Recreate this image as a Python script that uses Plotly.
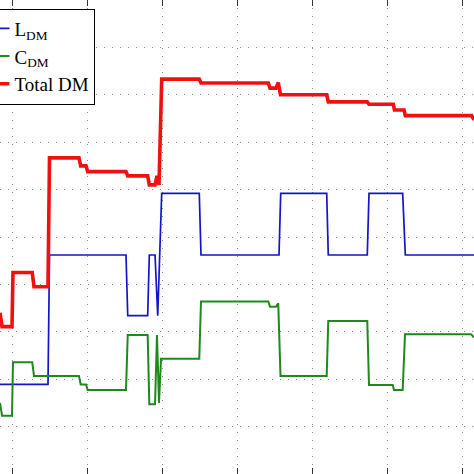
import plotly.graph_objects as go

# time axis (grid every 10 units), values (grid every 1 unit)
t_L = [-1.6, 4.8, 5.0, 15.2, 15.43, 18.09, 18.31, 19.07, 19.43, 19.96, 24.97, 25.2,
       35.6, 35.83, 41.96, 42.17, 47.37, 47.6, 52.09, 52.44, 61.6]
v_L = [1.89, 1.89, 4.62, 4.62, 3.34, 3.34, 4.62, 4.62, 3.34, 5.92, 5.92, 4.62,
       4.62, 5.92, 5.92, 4.62, 4.62, 5.92, 5.92, 4.62, 4.62]

t_C = [-1.6, -1.33, 0.0, 0.13, 2.7, 2.93, 8.93, 9.16, 9.87, 10.09, 15.2, 15.43,
       18.09, 18.31, 19.07, 19.33, 19.6, 19.87, 24.97, 25.2, 34.17, 34.4, 35.2,
       35.5, 35.8, 41.96, 42.17, 47.37, 47.6, 50.76, 50.93, 52.09, 52.4, 61.2, 61.6]
v_C = [1.50, 1.23, 1.23, 2.36, 2.36, 2.07, 2.07, 1.89, 1.89, 1.77, 1.77, 2.93,
       2.93, 1.47, 1.47, 2.93, 1.50, 2.43, 2.43, 3.64, 3.64, 3.53, 3.53,
       3.60, 2.07, 2.07, 3.23, 3.23, 1.88, 1.88, 1.77, 1.77, 2.95, 2.95, 2.88]

t_T = [-1.6, -1.33, 0.0, 0.13, 2.7, 2.93, 4.8, 5.0, 8.93, 9.16, 9.87, 10.09, 15.2, 15.43,
       18.09, 18.31, 19.07, 19.33, 19.6, 19.96, 24.97, 25.2, 34.17, 34.4, 35.2,
       35.5, 35.8, 41.96, 42.17, 47.37, 47.6, 50.84, 51.0, 52.27, 52.44, 61.29, 61.6]
v_T = [3.40, 3.11, 3.11, 4.25, 4.25, 3.95, 3.95, 6.67, 6.67, 6.50, 6.50, 6.38, 6.38, 6.29,
       6.29, 6.10, 6.10, 6.29, 6.10, 8.33, 8.33, 8.25, 8.25, 8.14, 8.14,
       8.26, 8.00, 8.00, 7.85, 7.85, 7.80, 7.80, 7.68, 7.68, 7.56, 7.56, 7.47]

names = ["L<sub>DM</sub>", "C<sub>DM</sub>", "Total DM"]

fig = go.Figure()
fig.add_trace(go.Scatter(x=t_L, y=v_L, mode="lines", name=names[0], legendgroup="a",
                         line=dict(color="#1414c8", width=1.7)))
fig.add_trace(go.Scatter(x=t_C, y=v_C, mode="lines", name=names[1], legendgroup="b",
                         line=dict(color="#1e8a1e", width=2)))
fig.add_trace(go.Scatter(x=t_T, y=v_T, mode="lines", name=names[2], legendgroup="c",
                         line=dict(color="#f01010", width=3.6)))

fig.update_layout(
    width=474, height=474,
    margin=dict(l=0, r=0, t=0, b=0, pad=0, autoexpand=False),
    paper_bgcolor="white", plot_bgcolor="white",
    showlegend=True,
    legend=dict(x=-0.056, y=0.982, xanchor="left", yanchor="top",
                bgcolor="white", bordercolor="black", borderwidth=1,
                font=dict(family="Liberation Serif, Times New Roman, serif", size=19, color="black"),
                tracegroupgap=0),
    xaxis=dict(range=[-1.6, 61.6], tick0=0, dtick=10, showticklabels=False,
               showgrid=True, gridcolor="#8a8a8a", gridwidth=1, griddash="1px,7px",
               ticks="inside", ticklen=6, tickcolor="#333333", mirror="ticks",
               zeroline=False, showline=False),
    yaxis=dict(range=[0, 10], tick0=0, dtick=1, showticklabels=False,
               showgrid=True, gridcolor="#8a8a8a", gridwidth=1, griddash="1px,7px",
               zeroline=False, showline=False),
)

fig.write_html("out.html", config={"displayModeBar": False},
               post_script="document.body.style.margin='0';document.body.style.overflow='hidden';")
